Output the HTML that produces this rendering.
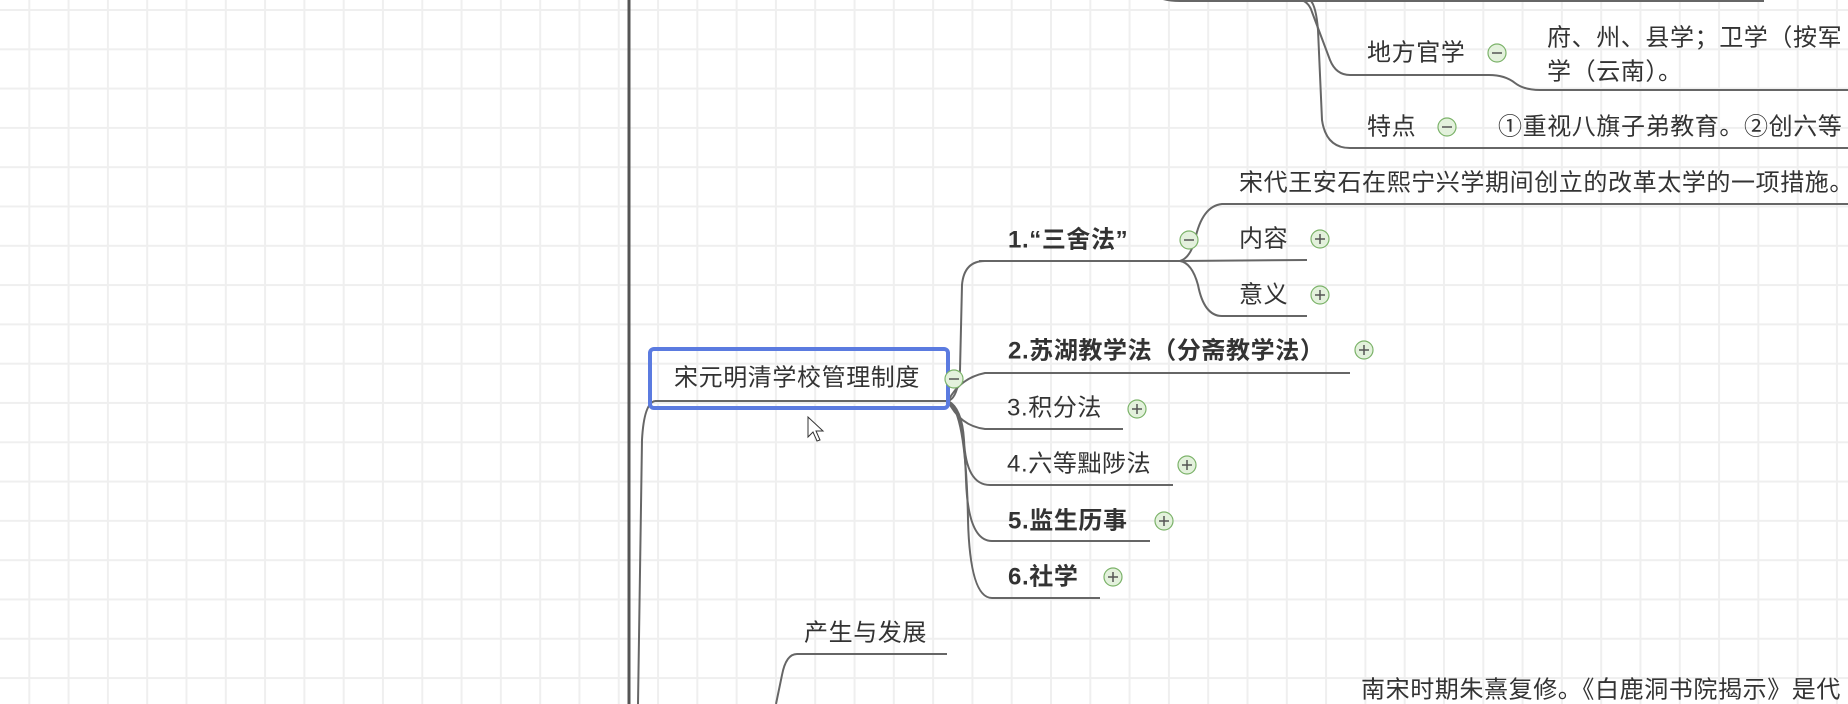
<!DOCTYPE html>
<html><head><meta charset="utf-8"><style>
html,body{margin:0;padding:0;}
body{width:1848px;height:704px;overflow:hidden;background:#fff;
background-image:linear-gradient(to right,#efefef 2px,transparent 2px),linear-gradient(to bottom,#efefef 2px,transparent 2px);
background-size:39.3px 39.3px;background-position:-11px 9px;}
svg{position:absolute;left:0;top:0;}
text{font-family:"Liberation Sans","Noto Sans CJK SC",sans-serif;font-size:24px;fill:#333;dominant-baseline:central;letter-spacing:0.6px;}
.b{font-weight:bold;}
</style></head><body>
<svg width="1848" height="704" viewBox="0 0 1848 704">
<g fill="none" stroke="#666" stroke-width="2">
<line x1="629" y1="0" x2="629" y2="704" stroke-width="3" stroke="#555"/>
<path d="M1160 -2 Q1168 1 1180 1 L1764 1"/>
<path d="M1200 -1 L1295 -1 Q1308 -1 1312 12 L1330 60 Q1336 75 1350 75 L1489 75 Q1505 75 1515 83 Q1524 90 1540 90 L1848 90"/>
<path d="M1310 0 Q1316 5 1318 30 L1322 120 Q1326 148 1350 148 L1848 148"/>
<path d="M979 261 L1180 261"/>
<path d="M1180 261 Q1190 258 1195 240 Q1202 206 1222 204 L1848 204"/>
<path d="M1180 261 L1307 260"/>
<path d="M1180 261 Q1192 263 1198 285 Q1204 316 1222 316 L1307 316"/>
<path d="M948 401 Q958 398 960 370 L962 285 Q964 261 985 261"/>
<path d="M948 401 Q960 378 985 373 L1350 373"/>
<path d="M948 401 Q960 426 985 429 L1123 429"/>
<path d="M948 401 Q962 408 964 440 Q966 485 990 485 L1173 485"/>
<path d="M948 401 Q964 410 966 480 Q968 541 992 541 L1150 541"/>
<path d="M948 401 Q966 412 968 520 Q970 598 992 598 L1100 598"/>
<path d="M655 401 L948 401"/>
<path d="M655 401 Q644 403 642 440 L638 704"/>
<path d="M947 654 L797 654 Q786 654 782 675 L776 704"/>
</g>
<rect x="650" y="349" width="298" height="59" rx="4" fill="none" stroke="#5b7be0" stroke-width="4"/>
<g stroke="#7cb36a" stroke-width="1.2" fill="#e3f1dc">
<circle cx="954" cy="379" r="9"/><circle cx="1189" cy="240" r="9"/>
<circle cx="1497" cy="53" r="9"/><circle cx="1447" cy="127" r="9"/>
<circle cx="1320" cy="239" r="9"/><circle cx="1320" cy="295" r="9"/>
<circle cx="1364" cy="350" r="9"/><circle cx="1137" cy="409" r="9"/>
<circle cx="1187" cy="465" r="9"/><circle cx="1164" cy="521" r="9"/>
<circle cx="1113" cy="577" r="9"/>
</g>
<g stroke="#555" stroke-width="1.5">
<line x1="949" y1="379" x2="959" y2="379"/><line x1="1184" y1="240" x2="1194" y2="240"/>
<line x1="1492" y1="53" x2="1502" y2="53"/><line x1="1442" y1="127" x2="1452" y2="127"/>
<line x1="1315" y1="239" x2="1325" y2="239"/><line x1="1320" y1="234" x2="1320" y2="244"/>
<line x1="1315" y1="295" x2="1325" y2="295"/><line x1="1320" y1="290" x2="1320" y2="300"/>
<line x1="1359" y1="350" x2="1369" y2="350"/><line x1="1364" y1="345" x2="1364" y2="355"/>
<line x1="1132" y1="409" x2="1142" y2="409"/><line x1="1137" y1="404" x2="1137" y2="414"/>
<line x1="1182" y1="465" x2="1192" y2="465"/><line x1="1187" y1="460" x2="1187" y2="470"/>
<line x1="1159" y1="521" x2="1169" y2="521"/><line x1="1164" y1="516" x2="1164" y2="526"/>
<line x1="1108" y1="577" x2="1118" y2="577"/><line x1="1113" y1="572" x2="1113" y2="582"/>
</g>
<text x="1367" y="53">地方官学</text>
<text x="1547" y="38">府、州、县学；卫学（按军</text>
<text x="1547" y="72">学（云南）。</text>
<text x="1367" y="127">特点</text>
<text x="1498" y="127">①重视八旗子弟教育。②创六等</text>
<text x="1239" y="183">宋代王安石在熙宁兴学期间创立的改革太学的一项措施。</text>
<text x="1239" y="239">内容</text>
<text x="1239" y="295">意义</text>
<text x="1008" y="240" class="b">1.“三舍法”</text>
<text x="674" y="378">宋元明清学校管理制度</text>
<text x="1008" y="351" class="b">2.苏湖教学法（分斋教学法）</text>
<text x="1007" y="408">3.积分法</text>
<text x="1007" y="464">4.六等黜陟法</text>
<text x="1008" y="521" class="b">5.监生历事</text>
<text x="1008" y="577" class="b">6.社学</text>
<text x="804" y="633">产生与发展</text>
<text x="1361" y="690">南宋时期朱熹复修。《白鹿洞书院揭示》是代</text>
<path d="M808 417 L808 437 L813 432 L817 441 L820 440 L816 431 L823 431 Z" fill="#fff" stroke="#333" stroke-width="1"/>
</svg>
</body></html>
